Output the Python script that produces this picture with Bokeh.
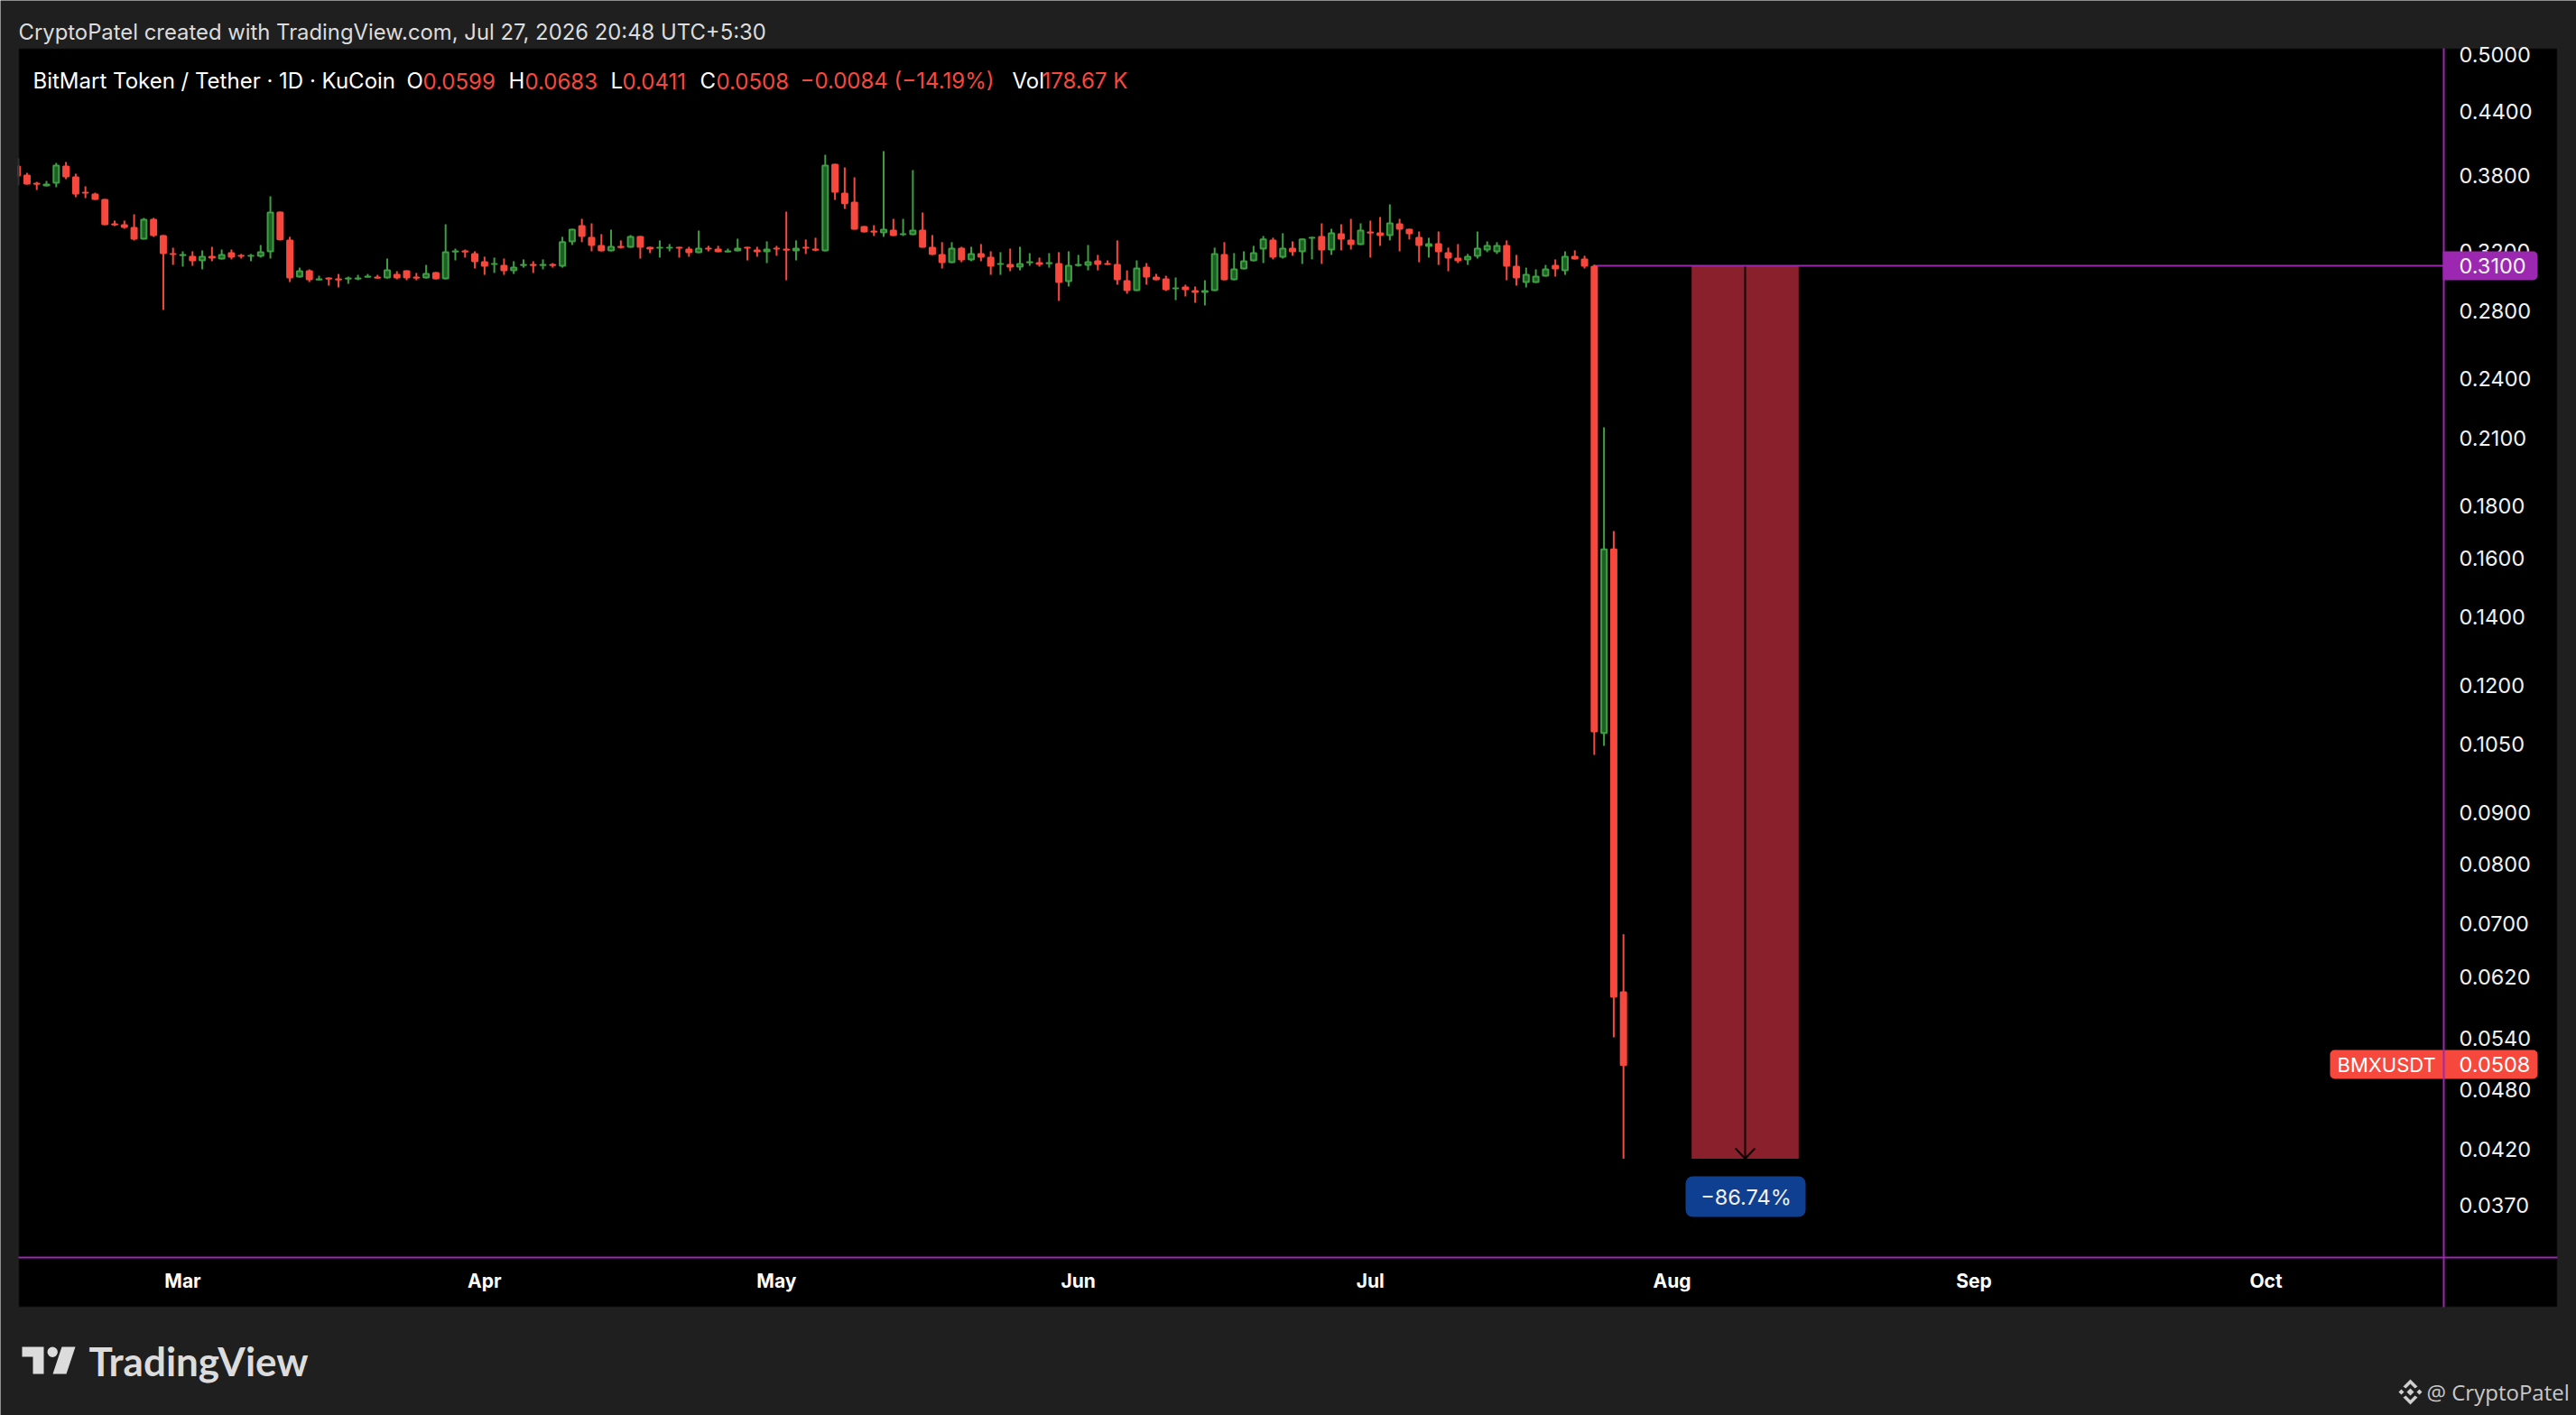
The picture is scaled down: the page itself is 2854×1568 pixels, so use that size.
import math
import numpy as np
import pandas as pd
from bokeh.embed import file_html
from bokeh.resources import INLINE
from bokeh.plotting import figure
from bokeh.models import (Range1d, FixedTicker, NumeralTickFormatter, Label, BoxAnnotation,
                          PolyAnnotation, ColumnDataSource)

OPEN = [.3881,.3802,.3733,.3718,.3741,.3881,.3787,.3658,.3643,.3599,.3405,.3398,.3377,.3296,.3440,.3316,.3184,.3176,.3164,.3138,
        .3164,.3151,.3190,.3171,.3170,.3171,.3203,.3497,.3283,.3025,.3062,.3005,.3012,.3006,.3011,.3011,.3024,.3019,.3019,.3037,
        .3062,.3019,.3019,.3050,.3012,.3202,.3203,.3184,.3125,.3112,.3100,.3068,.3105,.3106,.3105,.3106,.3100,.3276,.3391,.3303,
        .3243,.3210,.3236,.3236,.3310,.3230,.3229,.3229,.3230,.3216,.3197,.3223,.3216,.3202,.3210,.3230,.3210,.3203,.3223,.3216,
        .3210,.3230,.3216,.3210,.3897,.3650,.3577,.3384,.3350,.3343,.3357,.3329,.3330,.3357,.3230,.3177,.3125,.3223,.3145,.3184,
        .3158,.3112,.3106,.3094,.3124,.3119,.3118,.3113,.2994,.3105,.3106,.3132,.3113,.3106,.2994,.2934,.3087,.3019,.3006,.2945,
        .2952,.2928,.2922,.2934,.3177,.3006,.3081,.3138,.3223,.3283,.3164,.3223,.3203,.3302,.3310,.3216,.3330,.3283,.3256,.3343,
        .3337,.3323,.3405,.3364,.3303,.3243,.3256,.3190,.3151,.3145,.3171,.3216,.3203,.3243,.3094,.2988,.2988,.3031,.3100,.3068,
        .3164,.3145,.3094,.1077,.1632,.0599]
HIGH = [.3889,.3825,.3748,.3756,.3913,.3921,.3817,.3710,.3658,.3606,.3433,.3433,.3483,.3454,.3454,.3323,.3230,.3203,.3203,.3210,
        .3236,.3216,.3216,.3184,.3184,.3249,.3628,.3504,.3310,.3087,.3075,.3031,.3019,.3043,.3025,.3037,.3043,.3037,.3151,.3062,
        .3068,.3050,.3106,.3056,.3405,.3223,.3216,.3203,.3164,.3158,.3151,.3132,.3145,.3132,.3145,.3119,.3310,.3371,.3447,.3412,
        .3330,.3364,.3283,.3323,.3316,.3236,.3283,.3256,.3236,.3236,.3357,.3243,.3243,.3223,.3296,.3236,.3236,.3276,.3243,.3504,
        .3283,.3290,.3303,.3985,.3905,.3873,.3787,.3391,.3398,.4017,.3447,.3447,.3849,.3497,.3323,.3270,.3270,.3236,.3236,.3256,
        .3203,.3197,.3223,.3236,.3190,.3158,.3190,.3197,.3203,.3177,.3249,.3177,.3138,.3283,.3068,.3138,.3119,.3043,.3031,.3019,
        .2970,.2958,.3000,.3230,.3270,.3190,.3203,.3243,.3316,.3303,.3337,.3276,.3296,.3310,.3412,.3371,.3405,.3447,.3412,.3433,
        .3461,.3562,.3447,.3371,.3350,.3303,.3350,.3230,.3256,.3184,.3350,.3276,.3270,.3283,.3177,.3087,.3075,.3106,.3145,.3203,
        .3210,.3171,.3108,.2151,.1701,.0683]
LOW = [.3794,.3726,.3680,.3710,.3703,.3771,.3621,.3613,.3599,.3398,.3391,.3371,.3283,.3290,.3310,.2805,.3106,.3094,.3100,.3075,
       .3132,.3145,.3145,.3151,.3132,.3158,.3151,.3283,.2988,.3019,.2988,.3000,.2964,.2952,.2976,.3000,.3019,.3012,.3012,.3006,
       .3000,.3000,.3012,.3006,.3006,.3138,.3158,.3081,.3037,.3050,.3037,.3043,.3087,.3050,.3075,.3087,.3087,.3249,.3270,.3203,
       .3203,.3203,.3223,.3230,.3151,.3190,.3158,.3203,.3158,.3164,.3190,.3203,.3197,.3197,.3203,.3138,.3164,.3119,.3171,.3000,
       .3138,.3184,.3203,.3203,.3599,.3526,.3364,.3343,.3316,.3310,.3316,.3316,.3323,.3230,.3177,.3081,.3119,.3125,.3132,.3132,
       .3037,.3037,.3062,.3068,.3100,.3094,.3087,.2863,.2958,.3094,.3068,.3068,.3106,.2970,.2910,.2928,.2970,.3000,.2928,.2868,
       .2892,.2851,.2834,.2928,.3000,.3000,.3075,.3132,.3119,.3145,.3151,.3171,.3113,.3145,.3113,.3177,.3210,.3216,.3249,.3158,
       .3243,.3283,.3203,.3290,.3125,.3158,.3106,.3062,.3119,.3106,.3151,.3197,.3184,.3000,.2964,.2952,.2982,.3025,.3025,.3037,
       .3145,.3081,.1025,.1046,.0541,.0411]
CLOSE = [.3802,.3733,.3732,.3726,.3889,.3794,.3650,.3657,.3606,.3405,.3404,.3384,.3296,.3440,.3323,.3190,.3183,.3177,.3138,.3164,
         .3158,.3177,.3164,.3170,.3171,.3197,.3497,.3290,.3019,.3062,.3006,.3006,.3011,.3005,.3012,.3012,.3025,.3018,.3068,.3019,
         .3019,.3018,.3043,.3012,.3197,.3203,.3202,.3132,.3100,.3113,.3068,.3087,.3106,.3105,.3106,.3105,.3270,.3364,.3316,.3249,
         .3210,.3236,.3235,.3310,.3236,.3223,.3230,.3230,.3229,.3197,.3223,.3222,.3203,.3203,.3223,.3229,.3203,.3216,.3222,.3215,
         .3223,.3229,.3215,.3889,.3665,.3570,.3371,.3350,.3349,.3364,.3323,.3330,.3357,.3236,.3184,.3125,.3223,.3145,.3184,.3164,
         .3100,.3113,.3094,.3113,.3125,.3113,.3119,.2988,.3100,.3106,.3125,.3113,.3112,.3006,.2934,.3081,.3025,.3006,.2940,.2946,
         .2940,.2922,.2928,.3184,.3006,.3075,.3132,.3190,.3290,.3164,.3223,.3203,.3290,.3303,.3216,.3337,.3296,.3256,.3357,.3342,
         .3323,.3412,.3371,.3337,.3249,.3256,.3203,.3158,.3138,.3164,.3223,.3243,.3243,.3100,.3019,.3037,.3025,.3075,.3081,.3164,
         .3151,.3100,.1081,.1632,.0593,.0508]
START_DATE = "2026-02-12"
END_DATE = "2026-07-27"
MONTH_NAMES = ["Mar", "Apr", "May", "Jun", "Jul", "Aug", "Sep", "Oct"]
MONTH_STARTS = ["2026-03-01", "2026-04-01", "2026-05-01", "2026-06-01", "2026-07-01", "2026-08-01", "2026-09-01", "2026-10-01"]
PRICE_TICKS = [.5, .44, .38, .32, .28, .24, .21, .18, .16, .14, .12, .105, .09, .08, .07, .062, .054, .048, .042, .037]
LAST_PRICE = 0.0508
TARGET_LEVEL = 0.31
LOW_LEVEL = 0.0411
TOOL_START = "2026-08-03"
TOOL_END = "2026-08-14"

BG = "#1f1f1f"; RED = "#f7483e"; GREEN = "#3f9e43"; GREEN_FILL = "#1c5f22"; PURPLE = "#9c27b0"; EDGE = "#303030"
FONT = "Inter"

ORIGIN = pd.Timestamp("2026-03-01")
def day(d): return (pd.Timestamp(d) - ORIGIN).days
dates = pd.date_range(START_DATE, END_DATE)
days = np.array((dates - ORIGIN).days, dtype=float)

# page-pixel helpers for the furniture placed around the chart
PX_DAY = 10.785; PX_LN = 489.7
def X(px): return (px - 202) / PX_DAY
def Y(py): return TARGET_LEVEL * math.exp((294 - py) / PX_LN)

p = figure(width=2854, height=1568, output_backend="svg", toolbar_location=None,
           x_range=Range1d(X(0), X(2854)), y_range=Range1d(Y(1568), Y(0)), y_axis_type="log",
           y_axis_location="right", x_axis_location="below",
           min_border_left=0, min_border_right=0, min_border_top=0, min_border_bottom=0)
p.background_fill_color = BG
p.border_fill_color = BG
p.outline_line_color = None
p.grid.visible = False

xa = p.xaxis[0]
xa.fixed_location = Y(1393)
xa.ticker = FixedTicker(ticks=[day(d) for d in MONTH_STARTS])
xa.major_label_overrides = {day(d): n for d, n in zip(MONTH_STARTS, MONTH_NAMES)}
xa.axis_line_color = None
xa.major_tick_line_color = None; xa.minor_tick_line_color = None
xa.major_label_text_color = "#ffffff"; xa.major_label_text_font = FONT
xa.major_label_text_font_size = "21px"; xa.major_label_text_font_style = "bold"
xa.major_label_standoff = 7

ya = p.yaxis[0]
ya.fixed_location = X(2707)
ya.ticker = FixedTicker(ticks=PRICE_TICKS)
ya.formatter = NumeralTickFormatter(format="0.0000")
ya.axis_line_color = None
ya.major_tick_line_color = None; ya.minor_tick_line_color = None
ya.major_label_text_color = "#f0f0f0"; ya.major_label_text_font = FONT
ya.major_label_text_font_size = "23.5px"
ya.major_label_standoff = 11

# black chart panel
p.add_layout(BoxAnnotation(left=X(20), right=X(2833), top=Y(53), bottom=Y(1448), fill_color="#000000", fill_alpha=1,
                           line_color=EDGE, line_width=2, level="underlay"))

# trade tool
p.quad(left=day(TOOL_START), right=day(TOOL_END), top=TARGET_LEVEL, bottom=LOW_LEVEL, color="#8a202b", line_color=None)
mid = (day(TOOL_START) + day(TOOL_END)) / 2
p.segment(x0=[mid, mid - 1.0, mid + 1.0], y0=[TARGET_LEVEL, Y(1272), Y(1272)],
          x1=[mid, mid, mid], y1=[LOW_LEVEL, LOW_LEVEL, LOW_LEVEL], color="#000000", line_width=2)

# level line
p.segment(x0=[days[-4]], y0=[TARGET_LEVEL], x1=[X(2707)], y1=[TARGET_LEVEL], color=PURPLE, line_width=2)

# candles
o = np.array(OPEN); c = np.array(CLOSE)
up = c > o
src = ColumnDataSource(dict(x=days, o=o, c=c, h=HIGH, l=LOW,
                            top=np.maximum(o, c), bot=np.minimum(o, c),
                            wick=[GREEN if u else RED for u in up],
                            fill=[GREEN_FILL if u else RED for u in up]))
p.segment(x0="x", y0="l", x1="x", y1="h", color="wick", line_width=2, source=src)
p.vbar(x="x", top="top", bottom="bot", width=6 / PX_DAY, fill_color="fill", line_color="wick", line_width=2, source=src)

def box(x0, x1, y0, y1, color, radius=0):
    p.add_layout(BoxAnnotation(left=X(x0), right=X(x1), top=Y(y0), bottom=Y(y1), fill_color=color, fill_alpha=1,
                               line_color=None, level="overlay", border_radius=radius))
def poly(pts, color):
    p.add_layout(PolyAnnotation(xs=[X(a) for a, _ in pts], ys=[Y(b) for _, b in pts], fill_color=color, fill_alpha=1,
                                line_color=None, level="overlay"))
def text(px, py, s, color="#ffffff", size=22, align="left", style="normal", font=FONT):
    p.add_layout(Label(x=X(px), y=Y(py), text=s, text_color=color, text_font=font, text_font_size=f"{size}px",
                       text_align=align, text_baseline="middle", text_font_style=style, level="overlay"))

# the first candle is cut by the panel edge
box(10, 19, 175, 205, BG)
box(19, 21, 175, 205, EDGE)

# price tags
box(2706, 2811, 278, 310, PURPLE, radius=dict(top_left=0, top_right=5, bottom_right=5, bottom_left=0))
box(2581, 2811, 1163, 1195, RED, radius=5)
# scale divider and time-scale divider
box(2706, 2708, 53, 1448, PURPLE)
box(20, 2833, 1392, 1394, PURPLE)
text(2724, 294, f"{TARGET_LEVEL:.4f}", "#f4f4f4", size=23.5)
text(2724, 1179, f"{LAST_PRICE:.4f}", "#ffffff", size=23.5)
text(2589, 1179, "BMXUSDT", "#ffffff", size=22)

# percentage badge
box(1867, 2000, 1303, 1348, "#0e3f91", radius=8)
text(1934, 1326, "\u221286.74%", "#f0f0f0", size=23.5, align="center")

# header and OHLC legend
text(20, 35, "CryptoPatel created with TradingView.com, Jul 27, 2026 20:48 UTC+5:30", "#dcdcdc", size=23.85)
text(36, 89, "BitMart Token / Tether \u00b7 1D \u00b7 KuCoin", "#ffffff", size=24)
for px, s, col in [(450, "O", "#ffffff"), (468, "0.0599", RED), (563, "H", "#ffffff"), (581, "0.0683", RED),
                   (676, "L", "#ffffff"), (689, "0.0411", RED), (775, "C", "#ffffff"), (793, "0.0508", RED),
                   (886, "\u22120.0084 (\u221214.19%)", RED), (1121, "Vol", "#ffffff"), (1154, "178.67 K", RED)]:
    text(px, 89, s, col, size=24)

# footer logo
LOGO = "#dcdcdc"
poly([(24, 1492), (48, 1492), (48, 1522), (36, 1522), (36, 1503), (24, 1503)], LOGO)
poly([(68, 1492), (83, 1492), (73, 1522), (58, 1522)], LOGO)
box(52, 63.4, 1492, 1503.4, LOGO, radius=6)
text(98, 1507, "TradingView", LOGO, size=44, style="bold", font="Lato")

# footer credit
ICON = "#cfcfcf"
cx, cy = 2670, 1542
for dx, dy, r in [(0, 0, 4), (-10, 0, 3), (10, 0, 3)]:
    poly([(cx + dx - r, cy + dy), (cx + dx, cy + dy - r), (cx + dx + r, cy + dy), (cx + dx, cy + dy + r)], ICON)
poly([(cx, cy - 14), (cx + 8, cy - 6), (cx + 5, cy - 4), (cx, cy - 9), (cx - 5, cy - 4), (cx - 8, cy - 6)], ICON)
poly([(cx, cy + 14), (cx + 8, cy + 6), (cx + 5, cy + 4), (cx, cy + 9), (cx - 5, cy + 4), (cx - 8, cy + 6)], ICON)
text(2688, 1542, "@ CryptoPatel", "#c8c8c8", size=24, font="Open Sans")

open("out.html", "w").write(file_html(p, INLINE))
